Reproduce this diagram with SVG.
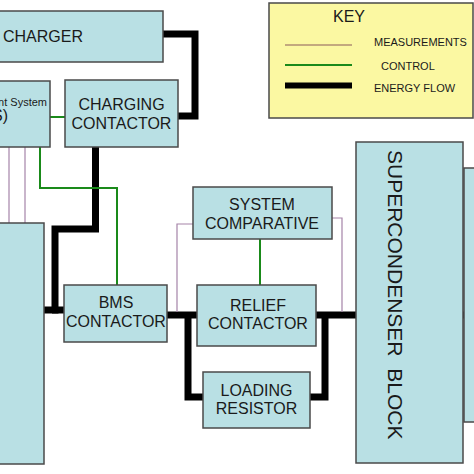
<svg xmlns="http://www.w3.org/2000/svg" width="474" height="474" viewBox="0 0 474 474">
<style>
.box{fill:#b9e0e4;stroke:#4a4a4a;stroke-width:1.5}
.lbl{font-family:"Liberation Sans",Arial,sans-serif;font-size:16px;fill:#1a1a1a;text-anchor:middle}
.energy{fill:none;stroke:#000;stroke-width:7;stroke-linejoin:miter}
.control{fill:none;stroke:#1a8a1a;stroke-width:2}
.meas{fill:none;stroke:#a584a8;stroke-width:1.2}
.key{font-family:"Liberation Sans",Arial,sans-serif;font-size:11px;fill:#1a1a1a}
</style>
<rect width="474" height="474" fill="#fff"/>
<g id="connectors">
<polyline class="energy" points="163,34 195,34 195,116 178,116"/>
<polyline class="energy" points="95.5,147 95.5,229 55,229 55,310 44,310"/>
<line class="energy" x1="52" y1="310" x2="65" y2="310"/>
<line class="energy" x1="167" y1="315" x2="197" y2="315"/>
<line class="energy" x1="316" y1="315" x2="356" y2="315"/>
<line class="energy" x1="463" y1="315" x2="464" y2="315"/>
<polyline class="energy" points="188,315 188,397 203,397"/>
<polyline class="energy" points="325,315 325,397 310,397"/>
<line class="control" x1="50" y1="117" x2="65" y2="117"/>
<polyline class="control" points="40,147 40,188 117,188 117,285"/>
<line class="control" x1="260" y1="239" x2="260" y2="285"/>
<line class="meas" x1="9" y1="147" x2="9" y2="223"/>
<line class="meas" x1="25" y1="147" x2="25" y2="223"/>
<polyline class="meas" points="193,224 177,224 177,312"/>
<polyline class="meas" points="332,218 342,218 342,312"/>
</g>
<g id="charger">
<rect class="box" x="-2" y="11" width="165" height="51"/>
<text class="lbl" x="3" y="42" style="text-anchor:start">CHARGER</text>
</g>
<g id="bms-system">
<rect class="box" x="-2" y="81" width="52" height="66"/>
<text class="lbl" x="47" y="106" style="text-anchor:end;font-size:11px">Battery Management System</text>
<text class="lbl" x="8" y="121" style="text-anchor:end">(BMS)</text>
</g>
<g id="charging-contactor">
<rect class="box" x="65" y="80" width="113" height="67"/>
<text class="lbl" x="121.5" y="110">CHARGING</text>
<text class="lbl" x="121.5" y="129">CONTACTOR</text>
</g>
<g id="battery">
<rect class="box" x="-2" y="223" width="46" height="241"/>
</g>
<g id="bms-contactor">
<rect class="box" x="64" y="285" width="103" height="57"/>
<text class="lbl" x="116" y="308">BMS</text>
<text class="lbl" x="116" y="327">CONTACTOR</text>
</g>
<g id="system-comparative">
<rect class="box" x="193" y="187" width="139" height="52"/>
<text class="lbl" x="262" y="210">SYSTEM</text>
<text class="lbl" x="262" y="229">COMPARATIVE</text>
</g>
<g id="relief-contactor">
<rect class="box" x="197" y="285" width="119" height="61"/>
<text class="lbl" x="258" y="311">RELIEF</text>
<text class="lbl" x="258" y="329">CONTACTOR</text>
</g>
<g id="loading-resistor">
<rect class="box" x="203" y="372" width="107" height="56"/>
<text class="lbl" x="256.5" y="396">LOADING</text>
<text class="lbl" x="256.5" y="414">RESISTOR</text>
</g>
<g id="supercondenser">
<rect class="box" x="356" y="142" width="107" height="321"/>
<text class="lbl" transform="translate(388,150) rotate(90)" x="0" y="0" style="text-anchor:start;font-size:21px" xml:space="preserve">SUPERCONDENSER  BLOCK</text>
</g>
<g id="right-block">
<rect class="box" x="464" y="168" width="14" height="254"/>
</g>
<g id="key">
<rect x="269" y="3" width="204" height="115" fill="#fbf8a2" stroke="#4a4a4a" stroke-width="1.5"/>
<text x="333" y="22" style="font-family:'Liberation Sans',Arial,sans-serif;font-size:16px;fill:#1a1a1a">KEY</text>
<line x1="285" y1="45" x2="352" y2="45" stroke="#8a5a5a" stroke-width="1"/>
<line x1="285" y1="65" x2="352" y2="65" stroke="#1a8a1a" stroke-width="2"/>
<line x1="285" y1="85.5" x2="352" y2="85.5" stroke="#000" stroke-width="6"/>
<text class="key" x="374" y="46">MEASUREMENTS</text>
<text class="key" x="381" y="70">CONTROL</text>
<text class="key" x="374" y="92">ENERGY FLOW</text>
</g>
</svg>
